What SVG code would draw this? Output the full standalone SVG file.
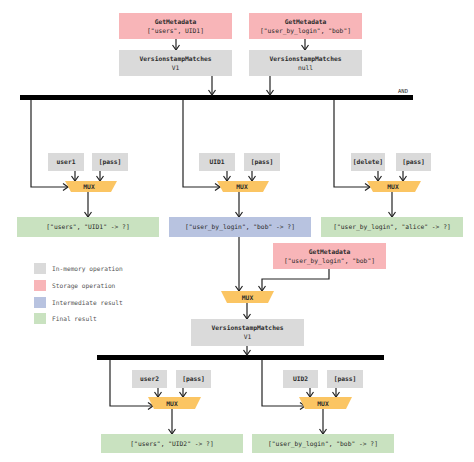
<svg xmlns="http://www.w3.org/2000/svg" width="474" height="462" viewBox="0 0 474 462">
<defs>
<marker id="arr" markerWidth="8" markerHeight="8" refX="6" refY="4" orient="auto" markerUnits="userSpaceOnUse">
<path d="M1,0.5 L6,4 L1,7.5" fill="none" stroke="#222" stroke-width="1.2"/>
</marker>
<style>
.store{fill:#f8b5b8}
.mem{fill:#dadada}
.inter{fill:#b8c3e0}
.final{fill:#c9e2c0}
.mux{fill:#fbc563}
text{font-family:"DejaVu Sans Mono","Liberation Mono",monospace;font-size:6.3px;fill:#2a2a2a;text-anchor:middle}
.b{font-weight:bold}
.leg{text-anchor:start;fill:#555;font-size:6.2px}
.ln{fill:none;stroke:#222;stroke-width:1.2}
.bar{fill:#000}
</style>
</defs>
<rect width="474" height="462" fill="#fff"/>

<g id="connectors">
<rect class="bar" x="20" y="95" width="393" height="5"/>
<text x="403" y="92.5" style="font-size:5.5px">AND</text>
<path class="ln" d="M176,39 V50" marker-end="url(#arr)"/>
<path class="ln" d="M305,39 V50" marker-end="url(#arr)"/>
<path class="ln" d="M212,76 V95" marker-end="url(#arr)"/>
<path class="ln" d="M270,76 V95" marker-end="url(#arr)"/>
<path class="ln" d="M31,100 V187 H68" marker-end="url(#arr)"/>
<path class="ln" d="M183,100 V187 H220" marker-end="url(#arr)"/>
<path class="ln" d="M334,100 V187 H370" marker-end="url(#arr)"/>
<path class="ln" d="M75,171 V181" marker-end="url(#arr)"/>
<path class="ln" d="M100,171 V181" marker-end="url(#arr)"/>
<path class="ln" d="M227,171 V181" marker-end="url(#arr)"/>
<path class="ln" d="M252,171 V181" marker-end="url(#arr)"/>
<path class="ln" d="M378,171 V181" marker-end="url(#arr)"/>
<path class="ln" d="M403,171 V181" marker-end="url(#arr)"/>
<path class="ln" d="M88,192 V217" marker-end="url(#arr)"/>
<path class="ln" d="M239,192 V217" marker-end="url(#arr)"/>
<path class="ln" d="M392,192 V217" marker-end="url(#arr)"/>
<path class="ln" d="M239,237 V291" marker-end="url(#arr)"/>
<path class="ln" d="M329,269 V279 H262 V291" marker-end="url(#arr)"/>
<path class="ln" d="M247,303 V319" marker-end="url(#arr)"/>
<rect class="bar" x="97" y="355" width="287" height="5"/>
<path class="ln" d="M247,346 V355" marker-end="url(#arr)"/>
<path class="ln" d="M110,360 V406 H153" marker-end="url(#arr)"/>
<path class="ln" d="M262,360 V406 H305" marker-end="url(#arr)"/>
<path class="ln" d="M158,388 V397" marker-end="url(#arr)"/>
<path class="ln" d="M183,388 V397" marker-end="url(#arr)"/>
<path class="ln" d="M310,388 V397" marker-end="url(#arr)"/>
<path class="ln" d="M336,388 V397" marker-end="url(#arr)"/>
<path class="ln" d="M172,409 V434" marker-end="url(#arr)"/>
<path class="ln" d="M323,409 V434" marker-end="url(#arr)"/>
</g>

<g id="getmeta1"><rect class="store" x="119" y="13" width="113" height="26"/><text class="b" x="175.5" y="24">GetMetadata</text><text x="175.5" y="33">["users", UID1]</text></g>
<g id="getmeta2"><rect class="store" x="249" y="13" width="113" height="26"/><text class="b" x="305.5" y="24">GetMetadata</text><text x="305.5" y="33">["user_by_login", "bob"]</text></g>
<g id="vsm1"><rect class="mem" x="119" y="50" width="113" height="26"/><text class="b" x="175.5" y="61">VersionstampMatches</text><text x="175.5" y="70">V1</text></g>
<g id="vsm2"><rect class="mem" x="249" y="50" width="113" height="26"/><text class="b" x="305.5" y="61">VersionstampMatches</text><text x="305.5" y="70">null</text></g>

<g id="user1"><rect class="mem" x="48" y="153" width="36" height="18"/><text class="b" x="66" y="164">user1</text></g>
<g id="pass1"><rect class="mem" x="92" y="153" width="36" height="18"/><text class="b" x="110" y="164">[pass]</text></g>
<g id="mux1"><polygon class="mux" points="65,181 117,181 111,192 71,192"/><text class="b" x="89" y="189">MUX</text></g>
<g id="res1"><rect class="final" x="17" y="217" width="142" height="20"/><text x="88" y="229">["users", "UID1" -&gt; ?]</text></g>

<g id="uid1"><rect class="mem" x="199" y="153" width="36" height="18"/><text class="b" x="217" y="164">UID1</text></g>
<g id="pass2"><rect class="mem" x="244" y="153" width="36" height="18"/><text class="b" x="262" y="164">[pass]</text></g>
<g id="mux2"><polygon class="mux" points="217,181 269,181 263,192 223,192"/><text class="b" x="242" y="189">MUX</text></g>
<g id="res2"><rect class="inter" x="169" y="217" width="142" height="20"/><text x="240" y="229">["user_by_login", "bob" -&gt; ?]</text></g>

<g id="delete"><rect class="mem" x="351" y="153" width="34" height="18"/><text class="b" x="368" y="164">[delete]</text></g>
<g id="pass3"><rect class="mem" x="396" y="153" width="35" height="18"/><text class="b" x="413.5" y="164">[pass]</text></g>
<g id="mux3"><polygon class="mux" points="367,181 421,181 415,192 373,192"/><text class="b" x="393" y="189">MUX</text></g>
<g id="res3"><rect class="final" x="321" y="217" width="142" height="20"/><text x="392" y="229">["user_by_login", "alice" -&gt; ?]</text></g>

<g id="legend">
<rect class="mem" x="34" y="263" width="12" height="11"/><text class="leg" x="52" y="271">In-memory operation</text>
<rect class="store" x="34" y="280" width="12" height="11"/><text class="leg" x="52" y="288">Storage operation</text>
<rect class="inter" x="34" y="297" width="12" height="11"/><text class="leg" x="52" y="304.5">Intermediate result</text>
<rect class="final" x="34" y="313" width="12" height="11"/><text class="leg" x="52" y="321">Final result</text>
</g>

<g id="getmeta3"><rect class="store" x="273" y="243" width="113" height="26"/><text class="b" x="329.5" y="254">GetMetadata</text><text x="329.5" y="263">["user_by_login", "bob"]</text></g>
<g id="mux4"><polygon class="mux" points="221,291 274,291 268,303 227,303"/><text class="b" x="247.5" y="299.5">MUX</text></g>
<g id="vsm3"><rect class="mem" x="191" y="319" width="113" height="27"/><text class="b" x="247.5" y="330">VersionstampMatches</text><text x="247.5" y="339">V1</text></g>

<g id="user2"><rect class="mem" x="132" y="370" width="35" height="18"/><text class="b" x="149.5" y="381">user2</text></g>
<g id="pass4"><rect class="mem" x="176" y="370" width="35" height="18"/><text class="b" x="193.5" y="381">[pass]</text></g>
<g id="mux5"><polygon class="mux" points="148,397 201,397 195,409 154,409"/><text class="b" x="172" y="405.5">MUX</text></g>
<g id="res4"><rect class="final" x="101" y="434" width="142" height="19"/><text x="172" y="445.5">["users", "UID2" -&gt; ?]</text></g>

<g id="uid2"><rect class="mem" x="283" y="370" width="35" height="18"/><text class="b" x="300.5" y="381">UID2</text></g>
<g id="pass5"><rect class="mem" x="327" y="370" width="36" height="18"/><text class="b" x="345" y="381">[pass]</text></g>
<g id="mux6"><polygon class="mux" points="299,397 352,397 346,409 305,409"/><text class="b" x="323" y="405.5">MUX</text></g>
<g id="res5"><rect class="final" x="252" y="434" width="142" height="19"/><text x="323" y="445.5">["user_by_login", "bob" -&gt; ?]</text></g>
</svg>
